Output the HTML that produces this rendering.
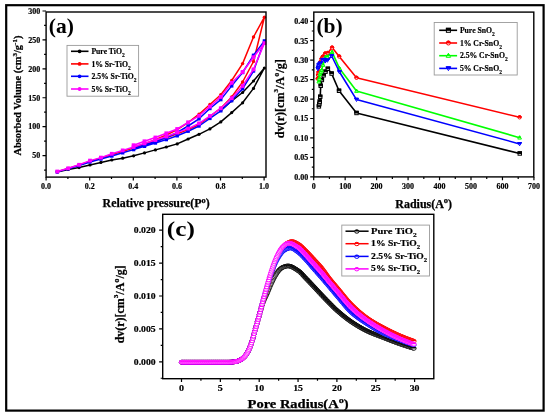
<!DOCTYPE html>
<html><head><meta charset="utf-8"><title>Figure</title>
<style>html,body{margin:0;padding:0;background:#fff;}svg{display:block;}</style>
</head><body>
<svg width="550" height="417" viewBox="0 0 550 417"><rect x="6.2" y="5.2" width="537.4" height="405.4" fill="none" stroke="#000" stroke-width="2.2"/>
<path d="M57.3 171.9 68.2 169.5 79.1 167.6 90 165 100.9 162.4 111.8 160 122.7 158.2 133.6 155.8 144.5 152.9 155.4 149.9 166.3 147 177.2 143.9 188.1 139 199 134.3 209.9 128.9 220.8 121.9 231.7 112.6 242.6 102.8 253.5 88.4 264.4 68 264.4 68 253.5 81 242.6 92.5 231.7 100.8 220.8 110.5" fill="none" stroke="#000" stroke-width="1.5" stroke-linejoin="round"/>
<g fill="#000"><circle cx="57.3" cy="171.9" r="1.6"/><circle cx="68.2" cy="169.5" r="1.6"/><circle cx="79.1" cy="167.6" r="1.6"/><circle cx="90" cy="165" r="1.6"/><circle cx="100.9" cy="162.4" r="1.6"/><circle cx="111.8" cy="160" r="1.6"/><circle cx="122.7" cy="158.2" r="1.6"/><circle cx="133.6" cy="155.8" r="1.6"/><circle cx="144.5" cy="152.9" r="1.6"/><circle cx="155.4" cy="149.9" r="1.6"/><circle cx="166.3" cy="147" r="1.6"/><circle cx="177.2" cy="143.9" r="1.6"/><circle cx="188.1" cy="139" r="1.6"/><circle cx="199" cy="134.3" r="1.6"/><circle cx="209.9" cy="128.9" r="1.6"/><circle cx="220.8" cy="121.9" r="1.6"/><circle cx="231.7" cy="112.6" r="1.6"/><circle cx="242.6" cy="102.8" r="1.6"/><circle cx="253.5" cy="88.4" r="1.6"/><circle cx="264.4" cy="68" r="1.6"/><circle cx="253.5" cy="81" r="1.6"/><circle cx="242.6" cy="92.5" r="1.6"/><circle cx="231.7" cy="100.8" r="1.6"/><circle cx="220.8" cy="110.5" r="1.6"/></g>
<path d="M57.3 171.6 68.2 168.4 79.1 165 90 161.4 100.9 158 111.8 154.6 122.7 151.3 133.6 148 144.5 144.6 155.4 141.2 166.3 137.7 177.2 133.8 188.1 129.6 199 124.5 209.9 116.5 220.8 108.2 231.7 96.9 242.6 82 253.5 61.5 264.4 17.2 264.4 17.2 253.5 37 242.6 63.6 231.7 80.5 220.8 94.8 209.9 104.5 199 114.2 188.1 122.6 177.2 129.6 166.3 135 155.4 139.6 144.5 143.6 133.6 147.5" fill="none" stroke="#ff0000" stroke-width="1.5" stroke-linejoin="round"/>
<g fill="#ff0000"><circle cx="57.3" cy="171.6" r="1.7"/><circle cx="68.2" cy="168.4" r="1.7"/><circle cx="79.1" cy="165" r="1.7"/><circle cx="90" cy="161.4" r="1.7"/><circle cx="100.9" cy="158" r="1.7"/><circle cx="111.8" cy="154.6" r="1.7"/><circle cx="122.7" cy="151.3" r="1.7"/><circle cx="133.6" cy="148" r="1.7"/><circle cx="144.5" cy="144.6" r="1.7"/><circle cx="155.4" cy="141.2" r="1.7"/><circle cx="166.3" cy="137.7" r="1.7"/><circle cx="177.2" cy="133.8" r="1.7"/><circle cx="188.1" cy="129.6" r="1.7"/><circle cx="199" cy="124.5" r="1.7"/><circle cx="209.9" cy="116.5" r="1.7"/><circle cx="220.8" cy="108.2" r="1.7"/><circle cx="231.7" cy="96.9" r="1.7"/><circle cx="242.6" cy="82" r="1.7"/><circle cx="253.5" cy="61.5" r="1.7"/><circle cx="264.4" cy="17.2" r="1.7"/><circle cx="253.5" cy="37" r="1.7"/><circle cx="242.6" cy="63.6" r="1.7"/><circle cx="231.7" cy="80.5" r="1.7"/><circle cx="220.8" cy="94.8" r="1.7"/><circle cx="209.9" cy="104.5" r="1.7"/><circle cx="199" cy="114.2" r="1.7"/><circle cx="188.1" cy="122.6" r="1.7"/><circle cx="177.2" cy="129.6" r="1.7"/><circle cx="166.3" cy="135" r="1.7"/><circle cx="155.4" cy="139.6" r="1.7"/><circle cx="144.5" cy="143.6" r="1.7"/><circle cx="133.6" cy="147.5" r="1.7"/></g>
<path d="M57.3 171.9 68.2 168.8 79.1 165.6 90 162 100.9 159 111.8 156 122.7 152.8 133.6 149.6 144.5 146.3 155.4 143 166.3 139.6 177.2 135.8 188.1 131.2 199 126 209.9 118.4 220.8 110.8 231.7 100.6 242.6 88.8 253.5 71 264.4 40.9 264.4 40.9 253.5 55.3 242.6 72.5 231.7 85.9 220.8 99.6 209.9 108.5 199 118.8 188.1 126 177.2 132.5 166.3 137.5 155.4 141.5 144.5 145 133.6 148.5" fill="none" stroke="#0000ff" stroke-width="1.5" stroke-linejoin="round"/>
<g fill="#0000ff"><rect x="55.6" y="170.2" width="3.4" height="3.4"/><rect x="66.5" y="167.1" width="3.4" height="3.4"/><rect x="77.4" y="163.9" width="3.4" height="3.4"/><rect x="88.3" y="160.3" width="3.4" height="3.4"/><rect x="99.2" y="157.3" width="3.4" height="3.4"/><rect x="110.1" y="154.3" width="3.4" height="3.4"/><rect x="121" y="151.1" width="3.4" height="3.4"/><rect x="131.9" y="147.9" width="3.4" height="3.4"/><rect x="142.8" y="144.6" width="3.4" height="3.4"/><rect x="153.7" y="141.3" width="3.4" height="3.4"/><rect x="164.6" y="137.9" width="3.4" height="3.4"/><rect x="175.5" y="134.1" width="3.4" height="3.4"/><rect x="186.4" y="129.5" width="3.4" height="3.4"/><rect x="197.3" y="124.3" width="3.4" height="3.4"/><rect x="208.2" y="116.7" width="3.4" height="3.4"/><rect x="219.1" y="109.1" width="3.4" height="3.4"/><rect x="230" y="98.9" width="3.4" height="3.4"/><rect x="240.9" y="87.1" width="3.4" height="3.4"/><rect x="251.8" y="69.3" width="3.4" height="3.4"/><rect x="262.7" y="39.2" width="3.4" height="3.4"/><rect x="251.8" y="53.6" width="3.4" height="3.4"/><rect x="240.9" y="70.8" width="3.4" height="3.4"/><rect x="230" y="84.2" width="3.4" height="3.4"/><rect x="219.1" y="97.9" width="3.4" height="3.4"/><rect x="208.2" y="106.8" width="3.4" height="3.4"/><rect x="197.3" y="117.1" width="3.4" height="3.4"/><rect x="186.4" y="124.3" width="3.4" height="3.4"/><rect x="175.5" y="130.8" width="3.4" height="3.4"/><rect x="164.6" y="135.8" width="3.4" height="3.4"/><rect x="153.7" y="139.8" width="3.4" height="3.4"/><rect x="142.8" y="143.3" width="3.4" height="3.4"/><rect x="131.9" y="146.8" width="3.4" height="3.4"/></g>
<path d="M57.3 171.5 68.2 168.3 79.1 164.8 90 160.6 100.9 157.6 111.8 153.8 122.7 150.4 133.6 147 144.5 143.4 155.4 140 166.3 136.5 177.2 132.6 188.1 128.6 199 123.4 209.9 116 220.8 108.3 231.7 98.2 242.6 86 253.5 69.4 264.4 43.1 264.4 43.1 253.5 57.2 242.6 72 231.7 82.8 220.8 96.9 209.9 106.6 199 115.8 188.1 122.3 177.2 129 166.3 133.3 155.4 137.5 144.5 141.3 133.6 145.2" fill="none" stroke="#ff00ff" stroke-width="1.5" stroke-linejoin="round"/>
<g fill="#ff00ff"><rect x="55.4" y="169.6" width="3.8" height="3.8"/><rect x="66.3" y="166.4" width="3.8" height="3.8"/><rect x="77.2" y="162.9" width="3.8" height="3.8"/><rect x="88.1" y="158.7" width="3.8" height="3.8"/><rect x="99" y="155.7" width="3.8" height="3.8"/><rect x="109.9" y="151.9" width="3.8" height="3.8"/><rect x="120.8" y="148.5" width="3.8" height="3.8"/><rect x="131.7" y="145.1" width="3.8" height="3.8"/><rect x="142.6" y="141.5" width="3.8" height="3.8"/><rect x="153.5" y="138.1" width="3.8" height="3.8"/><rect x="164.4" y="134.6" width="3.8" height="3.8"/><rect x="175.3" y="130.7" width="3.8" height="3.8"/><rect x="186.2" y="126.7" width="3.8" height="3.8"/><rect x="197.1" y="121.5" width="3.8" height="3.8"/><rect x="208" y="114.1" width="3.8" height="3.8"/><rect x="218.9" y="106.4" width="3.8" height="3.8"/><rect x="229.8" y="96.3" width="3.8" height="3.8"/><rect x="240.7" y="84.1" width="3.8" height="3.8"/><rect x="251.6" y="67.5" width="3.8" height="3.8"/><rect x="262.5" y="41.2" width="3.8" height="3.8"/><rect x="251.6" y="55.3" width="3.8" height="3.8"/><rect x="240.7" y="70.1" width="3.8" height="3.8"/><rect x="229.8" y="80.9" width="3.8" height="3.8"/><rect x="218.9" y="95" width="3.8" height="3.8"/><rect x="208" y="104.7" width="3.8" height="3.8"/><rect x="197.1" y="113.9" width="3.8" height="3.8"/><rect x="186.2" y="120.4" width="3.8" height="3.8"/><rect x="175.3" y="127.1" width="3.8" height="3.8"/><rect x="164.4" y="131.4" width="3.8" height="3.8"/><rect x="153.5" y="135.6" width="3.8" height="3.8"/><rect x="142.6" y="139.4" width="3.8" height="3.8"/><rect x="131.7" y="143.3" width="3.8" height="3.8"/></g>
<rect x="46.1" y="12" width="219.9" height="165.1" fill="none" stroke="#000" stroke-width="1.4"/>
<path d="M46.1 177.1v3.4M89.7 177.1v3.4M133.3 177.1v3.4M176.9 177.1v3.4M220.5 177.1v3.4M264.1 177.1v3.4M67.9 177.1v2M111.5 177.1v2M155.1 177.1v2M198.7 177.1v2M242.3 177.1v2" stroke="#000" stroke-width="1.2" fill="none"/>
<path d="M46.1 155.6h-3.6M46.1 126.68h-3.6M46.1 97.76h-3.6M46.1 68.84h-3.6M46.1 39.92h-3.6M46.1 11h-3.6M46.1 170.06h-2M46.1 141.14h-2M46.1 112.22h-2M46.1 83.3h-2M46.1 54.38h-2M46.1 25.46h-2" stroke="#000" stroke-width="1.2" fill="none"/>
<text x="46.1" y="189.2" font-size="8" text-anchor="middle" fill="#000" font-family="'Liberation Serif', 'Times New Roman', serif" font-weight="bold" stroke="#000" stroke-width="0.18">0.0</text>
<text x="89.7" y="189.2" font-size="8" text-anchor="middle" fill="#000" font-family="'Liberation Serif', 'Times New Roman', serif" font-weight="bold" stroke="#000" stroke-width="0.18">0.2</text>
<text x="133.3" y="189.2" font-size="8" text-anchor="middle" fill="#000" font-family="'Liberation Serif', 'Times New Roman', serif" font-weight="bold" stroke="#000" stroke-width="0.18">0.4</text>
<text x="176.9" y="189.2" font-size="8" text-anchor="middle" fill="#000" font-family="'Liberation Serif', 'Times New Roman', serif" font-weight="bold" stroke="#000" stroke-width="0.18">0.6</text>
<text x="220.5" y="189.2" font-size="8" text-anchor="middle" fill="#000" font-family="'Liberation Serif', 'Times New Roman', serif" font-weight="bold" stroke="#000" stroke-width="0.18">0.8</text>
<text x="264.1" y="189.2" font-size="8" text-anchor="middle" fill="#000" font-family="'Liberation Serif', 'Times New Roman', serif" font-weight="bold" stroke="#000" stroke-width="0.18">1.0</text>
<text x="40.2" y="158.4" font-size="8" text-anchor="end" fill="#000" font-family="'Liberation Serif', 'Times New Roman', serif" font-weight="bold" stroke="#000" stroke-width="0.18">50</text>
<text x="40.2" y="129.48" font-size="8" text-anchor="end" fill="#000" font-family="'Liberation Serif', 'Times New Roman', serif" font-weight="bold" stroke="#000" stroke-width="0.18">100</text>
<text x="40.2" y="100.56" font-size="8" text-anchor="end" fill="#000" font-family="'Liberation Serif', 'Times New Roman', serif" font-weight="bold" stroke="#000" stroke-width="0.18">150</text>
<text x="40.2" y="71.64" font-size="8" text-anchor="end" fill="#000" font-family="'Liberation Serif', 'Times New Roman', serif" font-weight="bold" stroke="#000" stroke-width="0.18">200</text>
<text x="40.2" y="42.72" font-size="8" text-anchor="end" fill="#000" font-family="'Liberation Serif', 'Times New Roman', serif" font-weight="bold" stroke="#000" stroke-width="0.18">250</text>
<text x="40.2" y="13.8" font-size="8" text-anchor="end" fill="#000" font-family="'Liberation Serif', 'Times New Roman', serif" font-weight="bold" stroke="#000" stroke-width="0.18">300</text>
<text x="102.6" y="207" font-size="12" text-anchor="start" textLength="107" lengthAdjust="spacingAndGlyphs" fill="#000" font-family="'Liberation Serif', 'Times New Roman', serif" font-weight="bold" stroke="#000" stroke-width="0.25">Relative pressure(P<tspan font-size="8.5" dy="-4.2">o</tspan><tspan dy="4.2">)</tspan></text>
<text transform="translate(20.8 155.6) rotate(-90)" font-size="10.4" textLength="120" lengthAdjust="spacingAndGlyphs" font-family="'Liberation Serif', 'Times New Roman', serif" font-weight="bold" stroke="#000" stroke-width="0.25">Absorbed Volume (cm<tspan font-size="7" dy="-4">3</tspan><tspan dy="4">/g</tspan><tspan font-size="7" dy="-4">-1</tspan><tspan dy="4">)</tspan></text>
<text x="48.8" y="32.6" font-size="21.5" text-anchor="start" fill="#000" font-family="'Liberation Serif', 'Times New Roman', serif" font-weight="bold">(a)</text>
<rect x="67" y="45.4" width="71.6" height="50.8" fill="#fff" stroke="#9a9a9a" stroke-width="0.9"/>
<path d="M71 51.3H88.5" stroke="#000" stroke-width="1.6"/>
<circle cx="79.6" cy="51.3" r="1.9" fill="#000"/>
<text x="91.4" y="53.9" font-size="7.7" text-anchor="start" fill="#000" font-family="'Liberation Serif', 'Times New Roman', serif" font-weight="bold" stroke="#000" stroke-width="0.18">Pure TiO<tspan font-size="5.5" dy="3">2</tspan></text>
<path d="M71 63.9H88.5" stroke="#ff0000" stroke-width="1.6"/>
<circle cx="79.6" cy="63.9" r="1.9" fill="#ff0000"/>
<text x="91.4" y="66.5" font-size="7.7" text-anchor="start" fill="#000" font-family="'Liberation Serif', 'Times New Roman', serif" font-weight="bold" stroke="#000" stroke-width="0.18">1% Sr-TiO<tspan font-size="5.5" dy="3">2</tspan></text>
<path d="M71 76.3H88.5" stroke="#0000ff" stroke-width="1.6"/>
<circle cx="79.6" cy="76.3" r="1.9" fill="#0000ff"/>
<text x="91.4" y="78.9" font-size="7.7" text-anchor="start" fill="#000" font-family="'Liberation Serif', 'Times New Roman', serif" font-weight="bold" stroke="#000" stroke-width="0.18">2.5% Sr-TiO<tspan font-size="5.5" dy="3">2</tspan></text>
<path d="M71 89H88.5" stroke="#ff00ff" stroke-width="1.6"/>
<circle cx="79.6" cy="89" r="1.9" fill="#ff00ff"/>
<text x="91.4" y="91.6" font-size="7.7" text-anchor="start" fill="#000" font-family="'Liberation Serif', 'Times New Roman', serif" font-weight="bold" stroke="#000" stroke-width="0.18">5% Sr-TiO<tspan font-size="5.5" dy="3">2</tspan></text>
<path d="M318.89 106.4 319.3 104 319.8 101.6 320.21 96.8 320.72 85.8 321.88 80 323.61 75.3 325.5 71.7 327.86 68.8 331.63 73.6 339.03 90.8 356.5 113 519.76 153.5" fill="none" stroke="#000" stroke-width="1.6" stroke-linejoin="round"/>
<g fill="#fff" stroke="#000" stroke-width="1.0"><rect x="317.19" y="104.7" width="3.4" height="3.4"/><rect x="317.19" y="104.7" width="3.4" height="1.7" fill="#000"/><rect x="317.6" y="102.3" width="3.4" height="3.4"/><rect x="317.6" y="102.3" width="3.4" height="1.7" fill="#000"/><rect x="318.1" y="99.9" width="3.4" height="3.4"/><rect x="318.1" y="99.9" width="3.4" height="1.7" fill="#000"/><rect x="318.51" y="95.1" width="3.4" height="3.4"/><rect x="318.51" y="95.1" width="3.4" height="1.7" fill="#000"/><rect x="319.02" y="84.1" width="3.4" height="3.4"/><rect x="319.02" y="84.1" width="3.4" height="1.7" fill="#000"/><rect x="320.18" y="78.3" width="3.4" height="3.4"/><rect x="320.18" y="78.3" width="3.4" height="1.7" fill="#000"/><rect x="321.91" y="73.6" width="3.4" height="3.4"/><rect x="321.91" y="73.6" width="3.4" height="1.7" fill="#000"/><rect x="323.8" y="70" width="3.4" height="3.4"/><rect x="323.8" y="70" width="3.4" height="1.7" fill="#000"/><rect x="326.16" y="67.1" width="3.4" height="3.4"/><rect x="326.16" y="67.1" width="3.4" height="1.7" fill="#000"/><rect x="329.93" y="71.9" width="3.4" height="3.4"/><rect x="329.93" y="71.9" width="3.4" height="1.7" fill="#000"/><rect x="337.33" y="89.1" width="3.4" height="3.4"/><rect x="337.33" y="89.1" width="3.4" height="1.7" fill="#000"/><rect x="354.8" y="111.3" width="3.4" height="3.4"/><rect x="354.8" y="111.3" width="3.4" height="1.7" fill="#000"/><rect x="518.06" y="151.8" width="3.4" height="3.4"/><rect x="518.06" y="151.8" width="3.4" height="1.7" fill="#000"/></g>
<path d="M317.7 78.7 318 75 318.5 72.3 319.5 66 320.5 62 321.5 59 322.7 56.8 323.8 56.4 325.2 53.5 327.8 53 332.1 47.6 339.2 56.5 356.5 77.8 519.6 117.3" fill="none" stroke="#ff0000" stroke-width="1.6" stroke-linejoin="round"/>
<g fill="#fff" stroke="#ff0000" stroke-width="1.0"><circle cx="317.7" cy="78.7" r="1.7"/><path d="M316 78.7A1.7 1.7 0 0 1 319.4 78.7Z" fill="#ff0000"/><circle cx="318" cy="75" r="1.7"/><path d="M316.3 75A1.7 1.7 0 0 1 319.7 75Z" fill="#ff0000"/><circle cx="318.5" cy="72.3" r="1.7"/><path d="M316.8 72.3A1.7 1.7 0 0 1 320.2 72.3Z" fill="#ff0000"/><circle cx="319.5" cy="66" r="1.7"/><path d="M317.8 66A1.7 1.7 0 0 1 321.2 66Z" fill="#ff0000"/><circle cx="320.5" cy="62" r="1.7"/><path d="M318.8 62A1.7 1.7 0 0 1 322.2 62Z" fill="#ff0000"/><circle cx="321.5" cy="59" r="1.7"/><path d="M319.8 59A1.7 1.7 0 0 1 323.2 59Z" fill="#ff0000"/><circle cx="322.7" cy="56.8" r="1.7"/><path d="M321 56.8A1.7 1.7 0 0 1 324.4 56.8Z" fill="#ff0000"/><circle cx="323.8" cy="56.4" r="1.7"/><path d="M322.1 56.4A1.7 1.7 0 0 1 325.5 56.4Z" fill="#ff0000"/><circle cx="325.2" cy="53.5" r="1.7"/><path d="M323.5 53.5A1.7 1.7 0 0 1 326.9 53.5Z" fill="#ff0000"/><circle cx="327.8" cy="53" r="1.7"/><path d="M326.1 53A1.7 1.7 0 0 1 329.5 53Z" fill="#ff0000"/><circle cx="332.1" cy="47.6" r="1.7"/><path d="M330.4 47.6A1.7 1.7 0 0 1 333.8 47.6Z" fill="#ff0000"/><circle cx="339.2" cy="56.5" r="1.7"/><path d="M337.5 56.5A1.7 1.7 0 0 1 340.9 56.5Z" fill="#ff0000"/><circle cx="356.5" cy="77.8" r="1.7"/><path d="M354.8 77.8A1.7 1.7 0 0 1 358.2 77.8Z" fill="#ff0000"/><circle cx="519.6" cy="117.3" r="1.7"/><path d="M517.9 117.3A1.7 1.7 0 0 1 521.3 117.3Z" fill="#ff0000"/></g>
<path d="M318.8 81.6 319.2 78.5 319.5 78.7 320 74.2 320.8 72 321.6 70.1 323 65 325.6 57.2 327.2 56.8 332.1 52.2 339.5 68.4 356.5 91 519.6 137.7" fill="none" stroke="#00ff00" stroke-width="1.6" stroke-linejoin="round"/>
<g fill="#fff" stroke="#00ff00" stroke-width="1.0"><path d="M318.8 79.73L320.67 82.96H316.93Z"/><path d="M318.8 79.73L319.88 81.6H317.72Z" fill="#00ff00"/><path d="M319.2 76.63L321.07 79.86H317.33Z"/><path d="M319.2 76.63L320.28 78.5H318.12Z" fill="#00ff00"/><path d="M319.5 76.83L321.37 80.06H317.63Z"/><path d="M319.5 76.83L320.58 78.7H318.42Z" fill="#00ff00"/><path d="M320 72.33L321.87 75.56H318.13Z"/><path d="M320 72.33L321.08 74.2H318.92Z" fill="#00ff00"/><path d="M320.8 70.13L322.67 73.36H318.93Z"/><path d="M320.8 70.13L321.88 72H319.72Z" fill="#00ff00"/><path d="M321.6 68.23L323.47 71.46H319.73Z"/><path d="M321.6 68.23L322.68 70.1H320.52Z" fill="#00ff00"/><path d="M323 63.13L324.87 66.36H321.13Z"/><path d="M323 63.13L324.08 65H321.92Z" fill="#00ff00"/><path d="M325.6 55.33L327.47 58.56H323.73Z"/><path d="M325.6 55.33L326.68 57.2H324.52Z" fill="#00ff00"/><path d="M327.2 54.93L329.07 58.16H325.33Z"/><path d="M327.2 54.93L328.28 56.8H326.12Z" fill="#00ff00"/><path d="M332.1 50.33L333.97 53.56H330.23Z"/><path d="M332.1 50.33L333.18 52.2H331.02Z" fill="#00ff00"/><path d="M339.5 66.53L341.37 69.76H337.63Z"/><path d="M339.5 66.53L340.58 68.4H338.42Z" fill="#00ff00"/><path d="M356.5 89.13L358.37 92.36H354.63Z"/><path d="M356.5 89.13L357.58 91H355.42Z" fill="#00ff00"/><path d="M519.6 135.83L521.47 139.06H517.73Z"/><path d="M519.6 135.83L520.68 137.7H518.52Z" fill="#00ff00"/></g>
<path d="M317.9 69 318.2 67.3 318.7 65.1 319.8 63.6 320.5 63.4 322.6 60 324.5 59.7 325.2 61.2 327.4 60.4 331.7 56 339.5 72 356.5 99.6 519.6 143.9" fill="none" stroke="#0000ff" stroke-width="1.6" stroke-linejoin="round"/>
<g fill="#fff" stroke="#0000ff" stroke-width="1.0"><path d="M317.9 70.87L319.77 67.64H316.03Z"/><path d="M316.03 67.64H319.77L318.98 69H316.82Z" fill="#0000ff"/><path d="M318.2 69.17L320.07 65.94H316.33Z"/><path d="M316.33 65.94H320.07L319.28 67.3H317.12Z" fill="#0000ff"/><path d="M318.7 66.97L320.57 63.74H316.83Z"/><path d="M316.83 63.74H320.57L319.78 65.1H317.62Z" fill="#0000ff"/><path d="M319.8 65.47L321.67 62.24H317.93Z"/><path d="M317.93 62.24H321.67L320.88 63.6H318.72Z" fill="#0000ff"/><path d="M320.5 65.27L322.37 62.04H318.63Z"/><path d="M318.63 62.04H322.37L321.58 63.4H319.42Z" fill="#0000ff"/><path d="M322.6 61.87L324.47 58.64H320.73Z"/><path d="M320.73 58.64H324.47L323.68 60H321.52Z" fill="#0000ff"/><path d="M324.5 61.57L326.37 58.34H322.63Z"/><path d="M322.63 58.34H326.37L325.58 59.7H323.42Z" fill="#0000ff"/><path d="M325.2 63.07L327.07 59.84H323.33Z"/><path d="M323.33 59.84H327.07L326.28 61.2H324.12Z" fill="#0000ff"/><path d="M327.4 62.27L329.27 59.04H325.53Z"/><path d="M325.53 59.04H329.27L328.48 60.4H326.32Z" fill="#0000ff"/><path d="M331.7 57.87L333.57 54.64H329.83Z"/><path d="M329.83 54.64H333.57L332.78 56H330.62Z" fill="#0000ff"/><path d="M339.5 73.87L341.37 70.64H337.63Z"/><path d="M337.63 70.64H341.37L340.58 72H338.42Z" fill="#0000ff"/><path d="M356.5 101.47L358.37 98.24H354.63Z"/><path d="M354.63 98.24H358.37L357.58 99.6H355.42Z" fill="#0000ff"/><path d="M519.6 145.77L521.47 142.54H517.73Z"/><path d="M517.73 142.54H521.47L520.68 143.9H518.52Z" fill="#0000ff"/></g>
<rect x="313.8" y="12.1" width="220" height="164.8" fill="none" stroke="#000" stroke-width="1.4"/>
<path d="M313.7 176.9v3.4M345.16 176.9v3.4M376.62 176.9v3.4M408.08 176.9v3.4M439.54 176.9v3.4M471 176.9v3.4M502.46 176.9v3.4M533.92 176.9v3.4M329.43 176.9v2M360.89 176.9v2M392.35 176.9v2M423.81 176.9v2M455.27 176.9v2M486.73 176.9v2M518.19 176.9v2" stroke="#000" stroke-width="1.2" fill="none"/>
<path d="M313.8 176.8h-3.6M313.8 157.36h-3.6M313.8 137.92h-3.6M313.8 118.48h-3.6M313.8 99.04h-3.6M313.8 79.6h-3.6M313.8 60.16h-3.6M313.8 40.72h-3.6M313.8 21.28h-3.6M313.8 167.08h-2M313.8 147.64h-2M313.8 128.2h-2M313.8 108.76h-2M313.8 89.32h-2M313.8 69.88h-2M313.8 50.44h-2M313.8 31h-2" stroke="#000" stroke-width="1.2" fill="none"/>
<text x="313.7" y="189" font-size="8" text-anchor="middle" fill="#000" font-family="'Liberation Serif', 'Times New Roman', serif" font-weight="bold" stroke="#000" stroke-width="0.18">0</text>
<text x="345.16" y="189" font-size="8" text-anchor="middle" fill="#000" font-family="'Liberation Serif', 'Times New Roman', serif" font-weight="bold" stroke="#000" stroke-width="0.18">100</text>
<text x="376.62" y="189" font-size="8" text-anchor="middle" fill="#000" font-family="'Liberation Serif', 'Times New Roman', serif" font-weight="bold" stroke="#000" stroke-width="0.18">200</text>
<text x="408.08" y="189" font-size="8" text-anchor="middle" fill="#000" font-family="'Liberation Serif', 'Times New Roman', serif" font-weight="bold" stroke="#000" stroke-width="0.18">300</text>
<text x="439.54" y="189" font-size="8" text-anchor="middle" fill="#000" font-family="'Liberation Serif', 'Times New Roman', serif" font-weight="bold" stroke="#000" stroke-width="0.18">400</text>
<text x="471" y="189" font-size="8" text-anchor="middle" fill="#000" font-family="'Liberation Serif', 'Times New Roman', serif" font-weight="bold" stroke="#000" stroke-width="0.18">500</text>
<text x="502.46" y="189" font-size="8" text-anchor="middle" fill="#000" font-family="'Liberation Serif', 'Times New Roman', serif" font-weight="bold" stroke="#000" stroke-width="0.18">600</text>
<text x="533.92" y="189" font-size="8" text-anchor="middle" fill="#000" font-family="'Liberation Serif', 'Times New Roman', serif" font-weight="bold" stroke="#000" stroke-width="0.18">700</text>
<text x="308.2" y="179.6" font-size="8" text-anchor="end" fill="#000" font-family="'Liberation Serif', 'Times New Roman', serif" font-weight="bold" stroke="#000" stroke-width="0.18">0.00</text>
<text x="308.2" y="160.16" font-size="8" text-anchor="end" fill="#000" font-family="'Liberation Serif', 'Times New Roman', serif" font-weight="bold" stroke="#000" stroke-width="0.18">0.05</text>
<text x="308.2" y="140.72" font-size="8" text-anchor="end" fill="#000" font-family="'Liberation Serif', 'Times New Roman', serif" font-weight="bold" stroke="#000" stroke-width="0.18">0.10</text>
<text x="308.2" y="121.28" font-size="8" text-anchor="end" fill="#000" font-family="'Liberation Serif', 'Times New Roman', serif" font-weight="bold" stroke="#000" stroke-width="0.18">0.15</text>
<text x="308.2" y="101.84" font-size="8" text-anchor="end" fill="#000" font-family="'Liberation Serif', 'Times New Roman', serif" font-weight="bold" stroke="#000" stroke-width="0.18">0.20</text>
<text x="308.2" y="82.4" font-size="8" text-anchor="end" fill="#000" font-family="'Liberation Serif', 'Times New Roman', serif" font-weight="bold" stroke="#000" stroke-width="0.18">0.25</text>
<text x="308.2" y="62.96" font-size="8" text-anchor="end" fill="#000" font-family="'Liberation Serif', 'Times New Roman', serif" font-weight="bold" stroke="#000" stroke-width="0.18">0.30</text>
<text x="308.2" y="43.52" font-size="8" text-anchor="end" fill="#000" font-family="'Liberation Serif', 'Times New Roman', serif" font-weight="bold" stroke="#000" stroke-width="0.18">0.35</text>
<text x="308.2" y="24.08" font-size="8" text-anchor="end" fill="#000" font-family="'Liberation Serif', 'Times New Roman', serif" font-weight="bold" stroke="#000" stroke-width="0.18">0.40</text>
<text x="395.3" y="207.6" font-size="12" text-anchor="start" textLength="56.8" lengthAdjust="spacingAndGlyphs" fill="#000" font-family="'Liberation Serif', 'Times New Roman', serif" font-weight="bold" stroke="#000" stroke-width="0.25">Radius(A<tspan font-size="8.5" dy="-4.2">o</tspan><tspan dy="4.2">)</tspan></text>
<text transform="translate(284.2 138.2) rotate(-90)" font-size="12" textLength="79" lengthAdjust="spacingAndGlyphs" font-family="'Liberation Serif', 'Times New Roman', serif" font-weight="bold" stroke="#000" stroke-width="0.25">dv(r)[cm<tspan font-size="7" dy="-6">3</tspan><tspan dy="6">/A</tspan><tspan font-size="8" dy="-4.8">o</tspan><tspan dy="4.8">/g]</tspan></text>
<text x="316.4" y="33.2" font-size="21.5" text-anchor="start" fill="#000" font-family="'Liberation Serif', 'Times New Roman', serif" font-weight="bold">(b)</text>
<rect x="434.2" y="22.5" width="83" height="52.5" fill="#fff" stroke="#9a9a9a" stroke-width="0.9"/>
<path d="M439.2 30.3H457.1" stroke="#000" stroke-width="1.6"/>
<g fill="#fff" stroke="#000" stroke-width="1.0"><rect x="446.4" y="28.3" width="4" height="4"/><rect x="446.4" y="28.3" width="4" height="2" fill="#000"/></g>
<text x="459.9" y="32.8" font-size="7.7" text-anchor="start" fill="#000" font-family="'Liberation Serif', 'Times New Roman', serif" font-weight="bold" stroke="#000" stroke-width="0.18">Pure SnO<tspan font-size="5.5" dy="3">2</tspan></text>
<path d="M439.2 43H457.1" stroke="#ff0000" stroke-width="1.6"/>
<g fill="#fff" stroke="#ff0000" stroke-width="1.0"><circle cx="448.4" cy="43" r="2.0"/><path d="M446.4 43A2.0 2.0 0 0 1 450.4 43Z" fill="#ff0000"/></g>
<text x="459.9" y="45.5" font-size="7.7" text-anchor="start" fill="#000" font-family="'Liberation Serif', 'Times New Roman', serif" font-weight="bold" stroke="#000" stroke-width="0.18">1% Cr-SnO<tspan font-size="5.5" dy="3">2</tspan></text>
<path d="M439.2 55.7H457.1" stroke="#00ff00" stroke-width="1.6"/>
<g fill="#fff" stroke="#00ff00" stroke-width="1.0"><path d="M448.4 53.5L450.6 57.3H446.2Z"/><path d="M448.4 53.5L449.67 55.7H447.13Z" fill="#00ff00"/></g>
<text x="459.9" y="58.2" font-size="7.7" text-anchor="start" fill="#000" font-family="'Liberation Serif', 'Times New Roman', serif" font-weight="bold" stroke="#000" stroke-width="0.18">2.5% Cr-SnO<tspan font-size="5.5" dy="3">2</tspan></text>
<path d="M439.2 68.4H457.1" stroke="#0000ff" stroke-width="1.6"/>
<g fill="#fff" stroke="#0000ff" stroke-width="1.0"><path d="M448.4 70.6L450.6 66.8H446.2Z"/><path d="M446.2 66.8H450.6L449.67 68.4H447.13Z" fill="#0000ff"/></g>
<text x="459.9" y="70.9" font-size="7.7" text-anchor="start" fill="#000" font-family="'Liberation Serif', 'Times New Roman', serif" font-weight="bold" stroke="#000" stroke-width="0.18">5% Cr-SnO<tspan font-size="5.5" dy="3">2</tspan></text>
<defs><marker id="mkblk" markerUnits="userSpaceOnUse" markerWidth="10" markerHeight="10" refX="5" refY="5" overflow="visible"><ellipse cx="5" cy="5" rx="2.22" ry="1.85" fill="#fff" stroke="#000" stroke-width="0.8"/><path d="M2.78 5A2.22 1.85 0 0 1 7.22 5Z" fill="#000"/></marker></defs>
<path d="M181.5 362.2 182.16 362.2 182.82 362.2 183.48 362.2 184.14 362.2 184.8 362.2 185.46 362.2 186.12 362.2 186.78 362.2 187.44 362.2 188.1 362.2 188.76 362.2 189.43 362.2 190.09 362.2 190.75 362.2 191.41 362.2 192.07 362.2 192.73 362.2 193.39 362.2 194.05 362.2 194.71 362.2 195.37 362.2 196.03 362.2 196.69 362.2 197.35 362.2 198.01 362.2 198.67 362.2 199.33 362.2 199.99 362.2 200.65 362.2 201.31 362.2 201.97 362.2 202.63 362.2 203.29 362.2 203.96 362.2 204.62 362.2 205.28 362.2 205.94 362.2 206.6 362.2 207.26 362.2 207.92 362.2 208.58 362.2 209.24 362.2 209.9 362.2 210.56 362.2 211.22 362.2 211.88 362.2 212.54 362.2 213.2 362.2 213.86 362.2 214.52 362.2 215.18 362.2 215.84 362.2 216.5 362.2 217.16 362.2 217.82 362.2 218.49 362.2 219.15 362.2 219.81 362.2 220.47 362.2 221.13 362.2 221.79 362.2 222.45 362.2 223.11 362.2 223.77 362.2 224.43 362.2 225.09 362.2 225.75 362.2 226.41 362.2 227.07 362.2 227.73 362.2 228.39 362.2 229.05 362.19 229.71 362.17 230.37 362.15 231.03 362.12 231.69 362.09 232.35 362.05 233.02 361.99 233.68 361.91 234.34 361.82 235 361.71 235.66 361.59 236.32 361.45 236.98 361.28 237.64 361.08 238.3 360.84 238.96 360.58 239.62 360.3 240.28 359.98 240.94 359.62 241.6 359.21 242.26 358.74 242.92 358.23 243.58 357.66 244.24 357.02 244.9 356.27 245.56 355.41 246.22 354.47 246.88 353.44 247.55 352.33 248.21 351.1 248.87 349.71 249.53 348.17 250.19 346.51 250.85 344.75 251.51 342.89 252.17 340.84 252.83 338.55 253.49 336.12 254.15 333.62 254.81 331.14 255.47 328.75 256.13 326.39 256.79 324.02 257.45 321.65 258.11 319.3 258.77 316.97 259.43 314.67 260.09 312.3 260.75 309.9 261.41 307.56 262.07 305.33 262.74 303.3 263.4 301.52 264.06 299.94 264.72 298.51 265.38 297.14 266.04 295.79 266.7 294.38 267.36 292.87 268.02 291.29 268.68 289.68 269.34 288.08 270 286.5 270.66 284.99 271.32 283.54 271.98 282.11 272.64 280.71 273.3 279.36 273.96 278.08 274.62 276.86 275.28 275.71 275.94 274.59 276.6 273.5 277.27 272.49 277.93 271.58 278.59 270.78 279.25 270.07 279.91 269.4 280.57 268.77 281.23 268.23 281.89 267.77 282.55 267.43 283.21 267.15 283.87 266.88 284.53 266.63 285.19 266.41 285.85 266.22 286.51 266.08 287.17 265.98 287.83 265.94 288.49 265.96 289.15 266.04 289.81 266.17 290.47 266.36 291.13 266.6 291.8 266.87 292.46 267.18 293.12 267.53 293.78 267.9 294.44 268.29 295.1 268.7 295.76 269.12 296.42 269.55 297.08 269.98 297.74 270.41 298.4 270.84 299.06 271.33 299.72 271.88 300.38 272.49 301.04 273.13 301.7 273.81 302.36 274.51 303.02 275.23 303.68 275.96 304.34 276.68 305 277.39 305.66 278.08 306.33 278.75 306.99 279.43 307.65 280.12 308.31 280.8 308.97 281.5 309.63 282.19 310.29 282.89 310.95 283.59 311.61 284.29 312.27 284.99 312.93 285.7 313.59 286.4 314.25 287.1 314.91 287.81 315.57 288.52 316.23 289.24 316.89 289.95 317.55 290.67 318.21 291.38 318.87 292.1 319.53 292.81 320.19 293.52 320.85 294.22 321.52 294.92 322.18 295.61 322.84 296.31 323.5 297 324.16 297.69 324.82 298.37 325.48 299.06 326.14 299.74 326.8 300.41 327.46 301.09 328.12 301.76 328.78 302.43 329.44 303.1 330.1 303.77 330.76 304.44 331.42 305.11 332.08 305.78 332.74 306.45 333.4 307.11 334.06 307.76 334.72 308.4 335.38 309.03 336.05 309.65 336.71 310.24 337.37 310.83 338.03 311.4 338.69 311.98 339.35 312.54 340.01 313.11 340.67 313.67 341.33 314.22 341.99 314.77 342.65 315.31 343.31 315.85 343.97 316.38 344.63 316.9 345.29 317.42 345.95 317.93 346.61 318.44 347.27 318.94 347.93 319.43 348.59 319.91 349.25 320.39 349.91 320.86 350.58 321.32 351.24 321.78 351.9 322.23 352.56 322.67 353.22 323.1 353.88 323.53 354.54 323.95 355.2 324.37 355.86 324.79 356.52 325.2 357.18 325.61 357.84 326.01 358.5 326.4 359.16 326.79 359.82 327.18 360.48 327.56 361.14 327.93 361.8 328.3 362.46 328.67 363.12 329.02 363.78 329.38 364.44 329.72 365.11 330.06 365.77 330.4 366.43 330.72 367.09 331.05 367.75 331.36 368.41 331.67 369.07 331.97 369.73 332.27 370.39 332.56 371.05 332.84 371.71 333.12 372.37 333.39 373.03 333.66 373.69 333.92 374.35 334.18 375.01 334.44 375.67 334.69 376.33 334.94 376.99 335.19 377.65 335.44 378.31 335.69 378.97 335.93 379.63 336.18 380.3 336.43 380.96 336.68 381.62 336.93 382.28 337.18 382.94 337.43 383.6 337.69 384.26 337.94 384.92 338.2 385.58 338.46 386.24 338.72 386.9 338.98 387.56 339.24 388.22 339.5 388.88 339.76 389.54 340.02 390.2 340.27 390.86 340.53 391.52 340.79 392.18 341.04 392.84 341.29 393.5 341.55 394.16 341.8 394.83 342.04 395.49 342.29 396.15 342.53 396.81 342.78 397.47 343.01 398.13 343.25 398.79 343.48 399.45 343.71 400.11 343.94 400.77 344.17 401.43 344.4 402.09 344.62 402.75 344.84 403.41 345.07 404.07 345.29 404.73 345.5 405.39 345.72 406.05 345.94 406.71 346.15 407.37 346.36 408.03 346.57 408.69 346.78 409.36 346.99 410.02 347.2 410.68 347.4 411.34 347.6 412 347.81 412.66 348 413.32 348.2 413.98 348.4" fill="none" stroke="none" marker-start="url(#mkblk)" marker-mid="url(#mkblk)" marker-end="url(#mkblk)"/>
<defs><marker id="mkred" markerUnits="userSpaceOnUse" markerWidth="10" markerHeight="10" refX="5" refY="5" overflow="visible"><ellipse cx="5" cy="5" rx="2.22" ry="1.85" fill="#fff" stroke="#ff0000" stroke-width="0.8"/><path d="M2.78 5A2.22 1.85 0 0 1 7.22 5Z" fill="#ff0000"/></marker></defs>
<path d="M181.5 362.2 182.16 362.2 182.82 362.2 183.48 362.2 184.14 362.2 184.8 362.2 185.46 362.2 186.12 362.2 186.78 362.2 187.44 362.2 188.1 362.2 188.76 362.2 189.43 362.2 190.09 362.2 190.75 362.2 191.41 362.2 192.07 362.2 192.73 362.2 193.39 362.2 194.05 362.2 194.71 362.2 195.37 362.2 196.03 362.2 196.69 362.2 197.35 362.2 198.01 362.2 198.67 362.2 199.33 362.2 199.99 362.2 200.65 362.2 201.31 362.2 201.97 362.2 202.63 362.2 203.29 362.2 203.96 362.2 204.62 362.2 205.28 362.2 205.94 362.2 206.6 362.2 207.26 362.2 207.92 362.2 208.58 362.2 209.24 362.2 209.9 362.2 210.56 362.2 211.22 362.2 211.88 362.2 212.54 362.2 213.2 362.2 213.86 362.2 214.52 362.2 215.18 362.2 215.84 362.2 216.5 362.2 217.16 362.2 217.82 362.2 218.49 362.2 219.15 362.2 219.81 362.2 220.47 362.2 221.13 362.2 221.79 362.2 222.45 362.2 223.11 362.2 223.77 362.2 224.43 362.2 225.09 362.2 225.75 362.2 226.41 362.2 227.07 362.2 227.73 362.2 228.39 362.2 229.05 362.19 229.71 362.17 230.37 362.15 231.03 362.12 231.69 362.09 232.35 362.05 233.02 361.99 233.68 361.91 234.34 361.82 235 361.71 235.66 361.59 236.32 361.45 236.98 361.28 237.64 361.08 238.3 360.84 238.96 360.58 239.62 360.3 240.28 359.98 240.94 359.62 241.6 359.21 242.26 358.74 242.92 358.23 243.58 357.66 244.24 357.02 244.9 356.27 245.56 355.41 246.22 354.47 246.88 353.44 247.55 352.33 248.21 351.1 248.87 349.71 249.53 348.17 250.19 346.51 250.85 344.75 251.51 342.89 252.17 340.84 252.83 338.55 253.49 336.12 254.15 333.62 254.81 331.14 255.47 328.75 256.13 326.41 256.79 324.08 257.45 321.74 258.11 319.4 258.77 317.03 259.43 314.63 260.09 312.16 260.75 309.64 261.41 307.12 262.07 304.64 262.74 302.23 263.4 299.95 264.06 297.77 264.72 295.66 265.38 293.58 266.04 291.51 266.7 289.39 267.36 287.21 268.02 284.96 268.68 282.69 269.34 280.41 270 278.16 270.66 275.97 271.32 273.85 271.98 271.73 272.64 269.64 273.3 267.61 273.96 265.66 274.62 263.81 275.28 262.07 275.94 260.37 276.6 258.74 277.27 257.19 277.93 255.73 278.59 254.36 279.25 253.08 279.91 251.83 280.57 250.66 281.23 249.56 281.89 248.55 282.55 247.66 283.21 246.83 283.87 246.05 284.53 245.32 285.19 244.67 285.85 244.12 286.51 243.69 287.17 243.3 287.83 242.93 288.49 242.57 289.15 242.26 289.81 241.99 290.47 241.78 291.13 241.64 291.8 241.59 292.46 241.63 293.12 241.75 293.78 241.94 294.44 242.19 295.1 242.49 295.76 242.82 296.42 243.18 297.08 243.55 297.74 243.92 298.4 244.29 299.06 244.72 299.72 245.2 300.38 245.73 301.04 246.31 301.7 246.91 302.36 247.55 303.02 248.2 303.68 248.87 304.34 249.53 305 250.2 305.66 250.85 306.33 251.49 306.99 252.15 307.65 252.83 308.31 253.51 308.97 254.21 309.63 254.92 310.29 255.63 310.95 256.35 311.61 257.07 312.27 257.79 312.93 258.51 313.59 259.22 314.25 259.93 314.91 260.64 315.57 261.34 316.23 262.04 316.89 262.74 317.55 263.45 318.21 264.17 318.87 264.9 319.53 265.64 320.19 266.39 320.85 267.17 321.52 267.97 322.18 268.8 322.84 269.66 323.5 270.55 324.16 271.46 324.82 272.38 325.48 273.31 326.14 274.24 326.8 275.17 327.46 276.09 328.12 276.98 328.78 277.85 329.44 278.7 330.1 279.53 330.76 280.34 331.42 281.15 332.08 281.95 332.74 282.74 333.4 283.52 334.06 284.31 334.72 285.08 335.38 285.86 336.05 286.64 336.71 287.42 337.37 288.2 338.03 289 338.69 289.79 339.35 290.6 340.01 291.4 340.67 292.21 341.33 293.02 341.99 293.84 342.65 294.65 343.31 295.45 343.97 296.26 344.63 297.06 345.29 297.85 345.95 298.64 346.61 299.42 347.27 300.19 347.93 300.95 348.59 301.69 349.25 302.43 349.91 303.15 350.58 303.85 351.24 304.54 351.9 305.21 352.56 305.86 353.22 306.5 353.88 307.13 354.54 307.75 355.2 308.37 355.86 308.98 356.52 309.58 357.18 310.18 357.84 310.77 358.5 311.35 359.16 311.92 359.82 312.49 360.48 313.04 361.14 313.59 361.8 314.13 362.46 314.66 363.12 315.19 363.78 315.7 364.44 316.21 365.11 316.71 365.77 317.2 366.43 317.68 367.09 318.15 367.75 318.61 368.41 319.06 369.07 319.51 369.73 319.95 370.39 320.38 371.05 320.8 371.71 321.21 372.37 321.62 373.03 322.02 373.69 322.42 374.35 322.81 375.01 323.19 375.67 323.57 376.33 323.95 376.99 324.32 377.65 324.69 378.31 325.05 378.97 325.42 379.63 325.77 380.3 326.13 380.96 326.49 381.62 326.84 382.28 327.19 382.94 327.54 383.6 327.89 384.26 328.24 384.92 328.59 385.58 328.94 386.24 329.28 386.9 329.62 387.56 329.96 388.22 330.3 388.88 330.63 389.54 330.97 390.2 331.3 390.86 331.62 391.52 331.95 392.18 332.27 392.84 332.59 393.5 332.9 394.16 333.21 394.83 333.52 395.49 333.83 396.15 334.13 396.81 334.43 397.47 334.72 398.13 335.01 398.79 335.3 399.45 335.59 400.11 335.87 400.77 336.15 401.43 336.42 402.09 336.7 402.75 336.97 403.41 337.24 404.07 337.51 404.73 337.77 405.39 338.04 406.05 338.3 406.71 338.55 407.37 338.81 408.03 339.06 408.69 339.31 409.36 339.56 410.02 339.8 410.68 340.04 411.34 340.28 412 340.51 412.66 340.74 413.32 340.97 413.98 341.2" fill="none" stroke="none" marker-start="url(#mkred)" marker-mid="url(#mkred)" marker-end="url(#mkred)"/>
<defs><marker id="mkblu" markerUnits="userSpaceOnUse" markerWidth="10" markerHeight="10" refX="5" refY="5" overflow="visible"><ellipse cx="5" cy="5" rx="2.22" ry="1.85" fill="#fff" stroke="#0000ff" stroke-width="0.8"/><path d="M2.78 5A2.22 1.85 0 0 1 7.22 5Z" fill="#0000ff"/></marker></defs>
<path d="M181.5 362.2 182.16 362.2 182.82 362.2 183.48 362.2 184.14 362.2 184.8 362.2 185.46 362.2 186.12 362.2 186.78 362.2 187.44 362.2 188.1 362.2 188.76 362.2 189.43 362.2 190.09 362.2 190.75 362.2 191.41 362.2 192.07 362.2 192.73 362.2 193.39 362.2 194.05 362.2 194.71 362.2 195.37 362.2 196.03 362.2 196.69 362.2 197.35 362.2 198.01 362.2 198.67 362.2 199.33 362.2 199.99 362.2 200.65 362.2 201.31 362.2 201.97 362.2 202.63 362.2 203.29 362.2 203.96 362.2 204.62 362.2 205.28 362.2 205.94 362.2 206.6 362.2 207.26 362.2 207.92 362.2 208.58 362.2 209.24 362.2 209.9 362.2 210.56 362.2 211.22 362.2 211.88 362.2 212.54 362.2 213.2 362.2 213.86 362.2 214.52 362.2 215.18 362.2 215.84 362.2 216.5 362.2 217.16 362.2 217.82 362.2 218.49 362.2 219.15 362.2 219.81 362.2 220.47 362.2 221.13 362.2 221.79 362.2 222.45 362.2 223.11 362.2 223.77 362.2 224.43 362.2 225.09 362.2 225.75 362.2 226.41 362.2 227.07 362.2 227.73 362.2 228.39 362.2 229.05 362.19 229.71 362.17 230.37 362.15 231.03 362.12 231.69 362.09 232.35 362.05 233.02 361.99 233.68 361.91 234.34 361.82 235 361.71 235.66 361.59 236.32 361.45 236.98 361.28 237.64 361.08 238.3 360.84 238.96 360.58 239.62 360.3 240.28 359.98 240.94 359.62 241.6 359.21 242.26 358.74 242.92 358.23 243.58 357.66 244.24 357.02 244.9 356.27 245.56 355.41 246.22 354.47 246.88 353.44 247.55 352.33 248.21 351.1 248.87 349.71 249.53 348.17 250.19 346.51 250.85 344.75 251.51 342.89 252.17 340.84 252.83 338.55 253.49 336.12 254.15 333.62 254.81 331.14 255.47 328.75 256.13 326.42 256.79 324.11 257.45 321.79 258.11 319.44 258.77 317.06 259.43 314.61 260.09 312.05 260.75 309.43 261.41 306.78 262.07 304.17 262.74 301.64 263.4 299.23 264.06 296.91 264.72 294.66 265.38 292.44 266.04 290.26 266.7 288.08 267.36 285.9 268.02 283.71 268.68 281.53 269.34 279.38 270 277.28 270.66 275.26 271.32 273.31 271.98 271.38 272.64 269.5 273.3 267.69 273.96 265.99 274.62 264.42 275.28 262.99 275.94 261.64 276.6 260.37 277.27 259.18 277.93 258.05 278.59 256.98 279.25 255.95 279.91 254.93 280.57 253.96 281.23 253.07 281.89 252.28 282.55 251.62 283.21 251.05 283.87 250.52 284.53 250.04 285.19 249.62 285.85 249.27 286.51 248.98 287.17 248.71 287.83 248.45 288.49 248.22 289.15 248.04 289.81 247.93 290.47 247.91 291.13 247.99 291.8 248.15 292.46 248.4 293.12 248.71 293.78 249.07 294.44 249.48 295.1 249.93 295.76 250.4 296.42 250.88 297.08 251.36 297.74 251.83 298.4 252.3 299.06 252.8 299.72 253.35 300.38 253.94 301.04 254.56 301.7 255.21 302.36 255.89 303.02 256.57 303.68 257.28 304.34 257.98 305 258.69 305.66 259.39 306.33 260.09 306.99 260.81 307.65 261.55 308.31 262.3 308.97 263.07 309.63 263.84 310.29 264.63 310.95 265.41 311.61 266.19 312.27 266.97 312.93 267.74 313.59 268.5 314.25 269.25 314.91 270 315.57 270.75 316.23 271.5 316.89 272.24 317.55 272.99 318.21 273.73 318.87 274.48 319.53 275.23 320.19 275.98 320.85 276.74 321.52 277.5 322.18 278.26 322.84 279.02 323.5 279.79 324.16 280.56 324.82 281.33 325.48 282.1 326.14 282.88 326.8 283.65 327.46 284.43 328.12 285.21 328.78 285.99 329.44 286.77 330.1 287.55 330.76 288.34 331.42 289.13 332.08 289.93 332.74 290.73 333.4 291.52 334.06 292.31 334.72 293.11 335.38 293.89 336.05 294.67 336.71 295.45 337.37 296.22 338.03 297 338.69 297.79 339.35 298.59 340.01 299.38 340.67 300.19 341.33 300.99 341.99 301.79 342.65 302.6 343.31 303.39 343.97 304.19 344.63 304.97 345.29 305.75 345.95 306.52 346.61 307.28 347.27 308.03 347.93 308.76 348.59 309.47 349.25 310.17 349.91 310.85 350.58 311.51 351.24 312.15 351.9 312.76 352.56 313.35 353.22 313.92 353.88 314.47 354.54 315.02 355.2 315.55 355.86 316.07 356.52 316.58 357.18 317.08 357.84 317.57 358.5 318.05 359.16 318.53 359.82 318.99 360.48 319.45 361.14 319.9 361.8 320.35 362.46 320.79 363.12 321.23 363.78 321.66 364.44 322.09 365.11 322.52 365.77 322.95 366.43 323.37 367.09 323.79 367.75 324.22 368.41 324.64 369.07 325.06 369.73 325.48 370.39 325.9 371.05 326.31 371.71 326.73 372.37 327.14 373.03 327.55 373.69 327.95 374.35 328.35 375.01 328.75 375.67 329.14 376.33 329.53 376.99 329.91 377.65 330.29 378.31 330.67 378.97 331.03 379.63 331.39 380.3 331.75 380.96 332.1 381.62 332.44 382.28 332.77 382.94 333.1 383.6 333.42 384.26 333.73 384.92 334.03 385.58 334.33 386.24 334.63 386.9 334.92 387.56 335.21 388.22 335.49 388.88 335.76 389.54 336.03 390.2 336.3 390.86 336.57 391.52 336.83 392.18 337.09 392.84 337.35 393.5 337.6 394.16 337.86 394.83 338.11 395.49 338.36 396.15 338.61 396.81 338.85 397.47 339.1 398.13 339.35 398.79 339.59 399.45 339.84 400.11 340.09 400.77 340.33 401.43 340.57 402.09 340.82 402.75 341.06 403.41 341.29 404.07 341.53 404.73 341.77 405.39 342 406.05 342.23 406.71 342.46 407.37 342.69 408.03 342.92 408.69 343.15 409.36 343.37 410.02 343.59 410.68 343.81 411.34 344.03 412 344.25 412.66 344.47 413.32 344.68 413.98 344.89" fill="none" stroke="none" marker-start="url(#mkblu)" marker-mid="url(#mkblu)" marker-end="url(#mkblu)"/>
<defs><marker id="mkmag" markerUnits="userSpaceOnUse" markerWidth="10" markerHeight="10" refX="5" refY="5" overflow="visible"><ellipse cx="5" cy="5" rx="2.22" ry="1.85" fill="#fff" stroke="#ff00ff" stroke-width="0.8"/><path d="M2.78 5A2.22 1.85 0 0 1 7.22 5Z" fill="#ff00ff"/></marker></defs>
<path d="M181.5 362.2 182.16 362.2 182.82 362.2 183.48 362.2 184.14 362.2 184.8 362.2 185.46 362.2 186.12 362.2 186.78 362.2 187.44 362.2 188.1 362.2 188.76 362.2 189.43 362.2 190.09 362.2 190.75 362.2 191.41 362.2 192.07 362.2 192.73 362.2 193.39 362.2 194.05 362.2 194.71 362.2 195.37 362.2 196.03 362.2 196.69 362.2 197.35 362.2 198.01 362.2 198.67 362.2 199.33 362.2 199.99 362.2 200.65 362.2 201.31 362.2 201.97 362.2 202.63 362.2 203.29 362.2 203.96 362.2 204.62 362.2 205.28 362.2 205.94 362.2 206.6 362.2 207.26 362.2 207.92 362.2 208.58 362.2 209.24 362.2 209.9 362.2 210.56 362.2 211.22 362.2 211.88 362.2 212.54 362.2 213.2 362.2 213.86 362.2 214.52 362.2 215.18 362.2 215.84 362.2 216.5 362.2 217.16 362.2 217.82 362.2 218.49 362.2 219.15 362.2 219.81 362.2 220.47 362.2 221.13 362.2 221.79 362.2 222.45 362.2 223.11 362.2 223.77 362.2 224.43 362.2 225.09 362.2 225.75 362.2 226.41 362.2 227.07 362.2 227.73 362.2 228.39 362.2 229.05 362.19 229.71 362.17 230.37 362.15 231.03 362.12 231.69 362.09 232.35 362.05 233.02 361.99 233.68 361.91 234.34 361.82 235 361.71 235.66 361.59 236.32 361.45 236.98 361.28 237.64 361.08 238.3 360.84 238.96 360.58 239.62 360.3 240.28 359.98 240.94 359.62 241.6 359.21 242.26 358.74 242.92 358.23 243.58 357.66 244.24 357.02 244.9 356.27 245.56 355.41 246.22 354.47 246.88 353.44 247.55 352.33 248.21 351.1 248.87 349.71 249.53 348.17 250.19 346.51 250.85 344.75 251.51 342.89 252.17 340.84 252.83 338.55 253.49 336.12 254.15 333.62 254.81 331.14 255.47 328.75 256.13 326.42 256.79 324.11 257.45 321.79 258.11 319.44 258.77 317.06 259.43 314.61 260.09 312.08 260.75 309.5 261.41 306.88 262.07 304.27 262.74 301.69 263.4 299.16 264.06 296.65 264.72 294.15 265.38 291.68 266.04 289.24 266.7 286.84 267.36 284.5 268.02 282.17 268.68 279.88 269.34 277.63 270 275.44 270.66 273.32 271.32 271.27 271.98 269.25 272.64 267.27 273.3 265.37 273.96 263.54 274.62 261.82 275.28 260.18 275.94 258.6 276.6 257.09 277.27 255.65 277.93 254.29 278.59 253.04 279.25 251.85 279.91 250.69 280.57 249.59 281.23 248.58 281.89 247.71 282.55 247.01 283.21 246.4 283.87 245.8 284.53 245.22 285.19 244.68 285.85 244.19 286.51 243.78 287.17 243.45 287.83 243.22 288.49 243.11 289.15 243.12 289.81 243.19 290.47 243.33 291.13 243.52 291.8 243.76 292.46 244.04 293.12 244.36 293.78 244.71 294.44 245.09 295.1 245.49 295.76 245.9 296.42 246.33 297.08 246.76 297.74 247.18 298.4 247.61 299.06 248.1 299.72 248.65 300.38 249.25 301.04 249.9 301.7 250.58 302.36 251.28 303.02 252.01 303.68 252.74 304.34 253.48 305 254.2 305.66 254.91 306.33 255.61 306.99 256.32 307.65 257.05 308.31 257.78 308.97 258.52 309.63 259.27 310.29 260.02 310.95 260.78 311.61 261.53 312.27 262.28 312.93 263.02 313.59 263.76 314.25 264.5 314.91 265.22 315.57 265.95 316.23 266.67 316.89 267.39 317.55 268.11 318.21 268.84 318.87 269.57 319.53 270.3 320.19 271.05 320.85 271.8 321.52 272.56 322.18 273.34 322.84 274.13 323.5 274.93 324.16 275.74 324.82 276.56 325.48 277.37 326.14 278.19 326.8 279.01 327.46 279.83 328.12 280.64 328.78 281.44 329.44 282.23 330.1 283.02 330.76 283.8 331.42 284.59 332.08 285.37 332.74 286.15 333.4 286.92 334.06 287.7 334.72 288.47 335.38 289.24 336.05 290.01 336.71 290.78 337.37 291.55 338.03 292.33 338.69 293.11 339.35 293.9 340.01 294.7 340.67 295.49 341.33 296.29 341.99 297.09 342.65 297.89 343.31 298.69 343.97 299.49 344.63 300.27 345.29 301.06 345.95 301.83 346.61 302.6 347.27 303.36 347.93 304.1 348.59 304.83 349.25 305.55 349.91 306.25 350.58 306.94 351.24 307.6 351.9 308.25 352.56 308.88 353.22 309.49 353.88 310.1 354.54 310.69 355.2 311.27 355.86 311.85 356.52 312.42 357.18 312.98 357.84 313.53 358.5 314.07 359.16 314.6 359.82 315.13 360.48 315.65 361.14 316.16 361.8 316.67 362.46 317.17 363.12 317.67 363.78 318.15 364.44 318.64 365.11 319.12 365.77 319.59 366.43 320.06 367.09 320.52 367.75 320.98 368.41 321.43 369.07 321.88 369.73 322.33 370.39 322.77 371.05 323.2 371.71 323.63 372.37 324.05 373.03 324.47 373.69 324.89 374.35 325.3 375.01 325.7 375.67 326.11 376.33 326.5 376.99 326.9 377.65 327.29 378.31 327.67 378.97 328.06 379.63 328.44 380.3 328.82 380.96 329.19 381.62 329.56 382.28 329.93 382.94 330.3 383.6 330.66 384.26 331.02 384.92 331.38 385.58 331.74 386.24 332.09 386.9 332.44 387.56 332.79 388.22 333.14 388.88 333.48 389.54 333.83 390.2 334.16 390.86 334.5 391.52 334.83 392.18 335.16 392.84 335.49 393.5 335.81 394.16 336.13 394.83 336.44 395.49 336.76 396.15 337.07 396.81 337.37 397.47 337.67 398.13 337.97 398.79 338.26 399.45 338.55 400.11 338.84 400.77 339.12 401.43 339.4 402.09 339.68 402.75 339.96 403.41 340.23 404.07 340.5 404.73 340.77 405.39 341.04 406.05 341.3 406.71 341.56 407.37 341.82 408.03 342.07 408.69 342.33 409.36 342.57 410.02 342.82 410.68 343.06 411.34 343.3 412 343.54 412.66 343.77 413.32 344 413.98 344.22" fill="none" stroke="none" marker-start="url(#mkmag)" marker-mid="url(#mkmag)" marker-end="url(#mkmag)"/>
<rect x="162.7" y="214.3" width="271.1" height="164.4" fill="none" stroke="#000" stroke-width="1.4"/>
<path d="M181.5 378.7v3.4M220.35 378.7v3.4M259.2 378.7v3.4M298.05 378.7v3.4M336.9 378.7v3.4M375.75 378.7v3.4M414.6 378.7v3.4M200.93 378.7v2M239.78 378.7v2M278.62 378.7v2M317.48 378.7v2M356.32 378.7v2M395.17 378.7v2" stroke="#000" stroke-width="1.2" fill="none"/>
<path d="M162.7 361.8h-3.6M162.7 328.9h-3.6M162.7 296h-3.6M162.7 263.1h-3.6M162.7 230.2h-3.6M162.7 378.25h-2M162.7 345.35h-2M162.7 312.45h-2M162.7 279.55h-2M162.7 246.65h-2" stroke="#000" stroke-width="1.2" fill="none"/>
<text x="181.5" y="390.6" font-size="8" text-anchor="middle" textLength="5" lengthAdjust="spacingAndGlyphs" fill="#000" font-family="'Liberation Serif', 'Times New Roman', serif" font-weight="bold" stroke="#000" stroke-width="0.18">0</text>
<text x="220.35" y="390.6" font-size="8" text-anchor="middle" textLength="5" lengthAdjust="spacingAndGlyphs" fill="#000" font-family="'Liberation Serif', 'Times New Roman', serif" font-weight="bold" stroke="#000" stroke-width="0.18">5</text>
<text x="259.2" y="390.6" font-size="8" text-anchor="middle" textLength="9.8" lengthAdjust="spacingAndGlyphs" fill="#000" font-family="'Liberation Serif', 'Times New Roman', serif" font-weight="bold" stroke="#000" stroke-width="0.18">10</text>
<text x="298.05" y="390.6" font-size="8" text-anchor="middle" textLength="9.8" lengthAdjust="spacingAndGlyphs" fill="#000" font-family="'Liberation Serif', 'Times New Roman', serif" font-weight="bold" stroke="#000" stroke-width="0.18">15</text>
<text x="336.9" y="390.6" font-size="8" text-anchor="middle" textLength="9.8" lengthAdjust="spacingAndGlyphs" fill="#000" font-family="'Liberation Serif', 'Times New Roman', serif" font-weight="bold" stroke="#000" stroke-width="0.18">20</text>
<text x="375.75" y="390.6" font-size="8" text-anchor="middle" textLength="9.8" lengthAdjust="spacingAndGlyphs" fill="#000" font-family="'Liberation Serif', 'Times New Roman', serif" font-weight="bold" stroke="#000" stroke-width="0.18">25</text>
<text x="414.6" y="390.6" font-size="8" text-anchor="middle" textLength="9.8" lengthAdjust="spacingAndGlyphs" fill="#000" font-family="'Liberation Serif', 'Times New Roman', serif" font-weight="bold" stroke="#000" stroke-width="0.18">30</text>
<text x="155.6" y="364.6" font-size="8" text-anchor="end" textLength="21.8" lengthAdjust="spacingAndGlyphs" fill="#000" font-family="'Liberation Serif', 'Times New Roman', serif" font-weight="bold" stroke="#000" stroke-width="0.18">0.000</text>
<text x="155.6" y="331.7" font-size="8" text-anchor="end" textLength="21.8" lengthAdjust="spacingAndGlyphs" fill="#000" font-family="'Liberation Serif', 'Times New Roman', serif" font-weight="bold" stroke="#000" stroke-width="0.18">0.005</text>
<text x="155.6" y="298.8" font-size="8" text-anchor="end" textLength="21.8" lengthAdjust="spacingAndGlyphs" fill="#000" font-family="'Liberation Serif', 'Times New Roman', serif" font-weight="bold" stroke="#000" stroke-width="0.18">0.010</text>
<text x="155.6" y="265.9" font-size="8" text-anchor="end" textLength="21.8" lengthAdjust="spacingAndGlyphs" fill="#000" font-family="'Liberation Serif', 'Times New Roman', serif" font-weight="bold" stroke="#000" stroke-width="0.18">0.015</text>
<text x="155.6" y="233" font-size="8" text-anchor="end" textLength="21.8" lengthAdjust="spacingAndGlyphs" fill="#000" font-family="'Liberation Serif', 'Times New Roman', serif" font-weight="bold" stroke="#000" stroke-width="0.18">0.020</text>
<text x="247.6" y="407.5" font-size="12" text-anchor="start" textLength="101" lengthAdjust="spacingAndGlyphs" fill="#000" font-family="'Liberation Serif', 'Times New Roman', serif" font-weight="bold" stroke="#000" stroke-width="0.25">Pore Radius(A<tspan font-size="8.5" dy="-4.2">o</tspan><tspan dy="4.2">)</tspan></text>
<text transform="translate(123.6 343.3) rotate(-90)" font-size="11.5" textLength="78" lengthAdjust="spacingAndGlyphs" font-family="'Liberation Serif', 'Times New Roman', serif" font-weight="bold" stroke="#000" stroke-width="0.25">dv(r)[cm<tspan font-size="7" dy="-6">3</tspan><tspan dy="6">/A</tspan><tspan font-size="8" dy="-4.8">o</tspan><tspan dy="4.8">/g]</tspan></text>
<text x="166.8" y="236.3" font-size="21.5" text-anchor="start" textLength="28" lengthAdjust="spacingAndGlyphs" fill="#000" font-family="'Liberation Serif', 'Times New Roman', serif" font-weight="bold">(c)</text>
<rect x="341.8" y="225.1" width="87.7" height="50.9" fill="#fff" stroke="#9a9a9a" stroke-width="0.9"/>
<path d="M345.5 231.2H368.6" stroke="#000" stroke-width="1.5"/>
<ellipse cx="356.8" cy="231.5" rx="2.2" ry="1.7" fill="#fff" stroke="#000" stroke-width="1.0"/>
<path d="M354.6 231.5A2.2 1.7 0 0 1 359 231.5Z" fill="#000"/>
<text x="371.1" y="233.7" font-size="7.8" text-anchor="start" textLength="45.5" lengthAdjust="spacingAndGlyphs" fill="#000" font-family="'Liberation Serif', 'Times New Roman', serif" font-weight="bold" stroke="#000" stroke-width="0.18">Pure TiO<tspan font-size="5.5" dy="3">2</tspan></text>
<path d="M345.5 243.7H368.6" stroke="#ff0000" stroke-width="1.5"/>
<ellipse cx="356.8" cy="244" rx="2.2" ry="1.7" fill="#fff" stroke="#ff0000" stroke-width="1.0"/>
<path d="M354.6 244A2.2 1.7 0 0 1 359 244Z" fill="#ff0000"/>
<text x="371.1" y="246.2" font-size="7.8" text-anchor="start" textLength="49" lengthAdjust="spacingAndGlyphs" fill="#000" font-family="'Liberation Serif', 'Times New Roman', serif" font-weight="bold" stroke="#000" stroke-width="0.18">1% Sr-TiO<tspan font-size="5.5" dy="3">2</tspan></text>
<path d="M345.5 256.4H368.6" stroke="#0000ff" stroke-width="1.5"/>
<ellipse cx="356.8" cy="256.7" rx="2.2" ry="1.7" fill="#fff" stroke="#0000ff" stroke-width="1.0"/>
<path d="M354.6 256.7A2.2 1.7 0 0 1 359 256.7Z" fill="#0000ff"/>
<text x="371.1" y="258.9" font-size="7.8" text-anchor="start" textLength="56" lengthAdjust="spacingAndGlyphs" fill="#000" font-family="'Liberation Serif', 'Times New Roman', serif" font-weight="bold" stroke="#000" stroke-width="0.18">2.5% Sr-TiO<tspan font-size="5.5" dy="3">2</tspan></text>
<path d="M345.5 268.9H368.6" stroke="#ff00ff" stroke-width="1.5"/>
<ellipse cx="356.8" cy="269.2" rx="2.2" ry="1.7" fill="#fff" stroke="#ff00ff" stroke-width="1.0"/>
<path d="M354.6 269.2A2.2 1.7 0 0 1 359 269.2Z" fill="#ff00ff"/>
<text x="371.1" y="271.4" font-size="7.8" text-anchor="start" textLength="49" lengthAdjust="spacingAndGlyphs" fill="#000" font-family="'Liberation Serif', 'Times New Roman', serif" font-weight="bold" stroke="#000" stroke-width="0.18">5% Sr-TiO<tspan font-size="5.5" dy="3">2</tspan></text></svg>
</body></html>
